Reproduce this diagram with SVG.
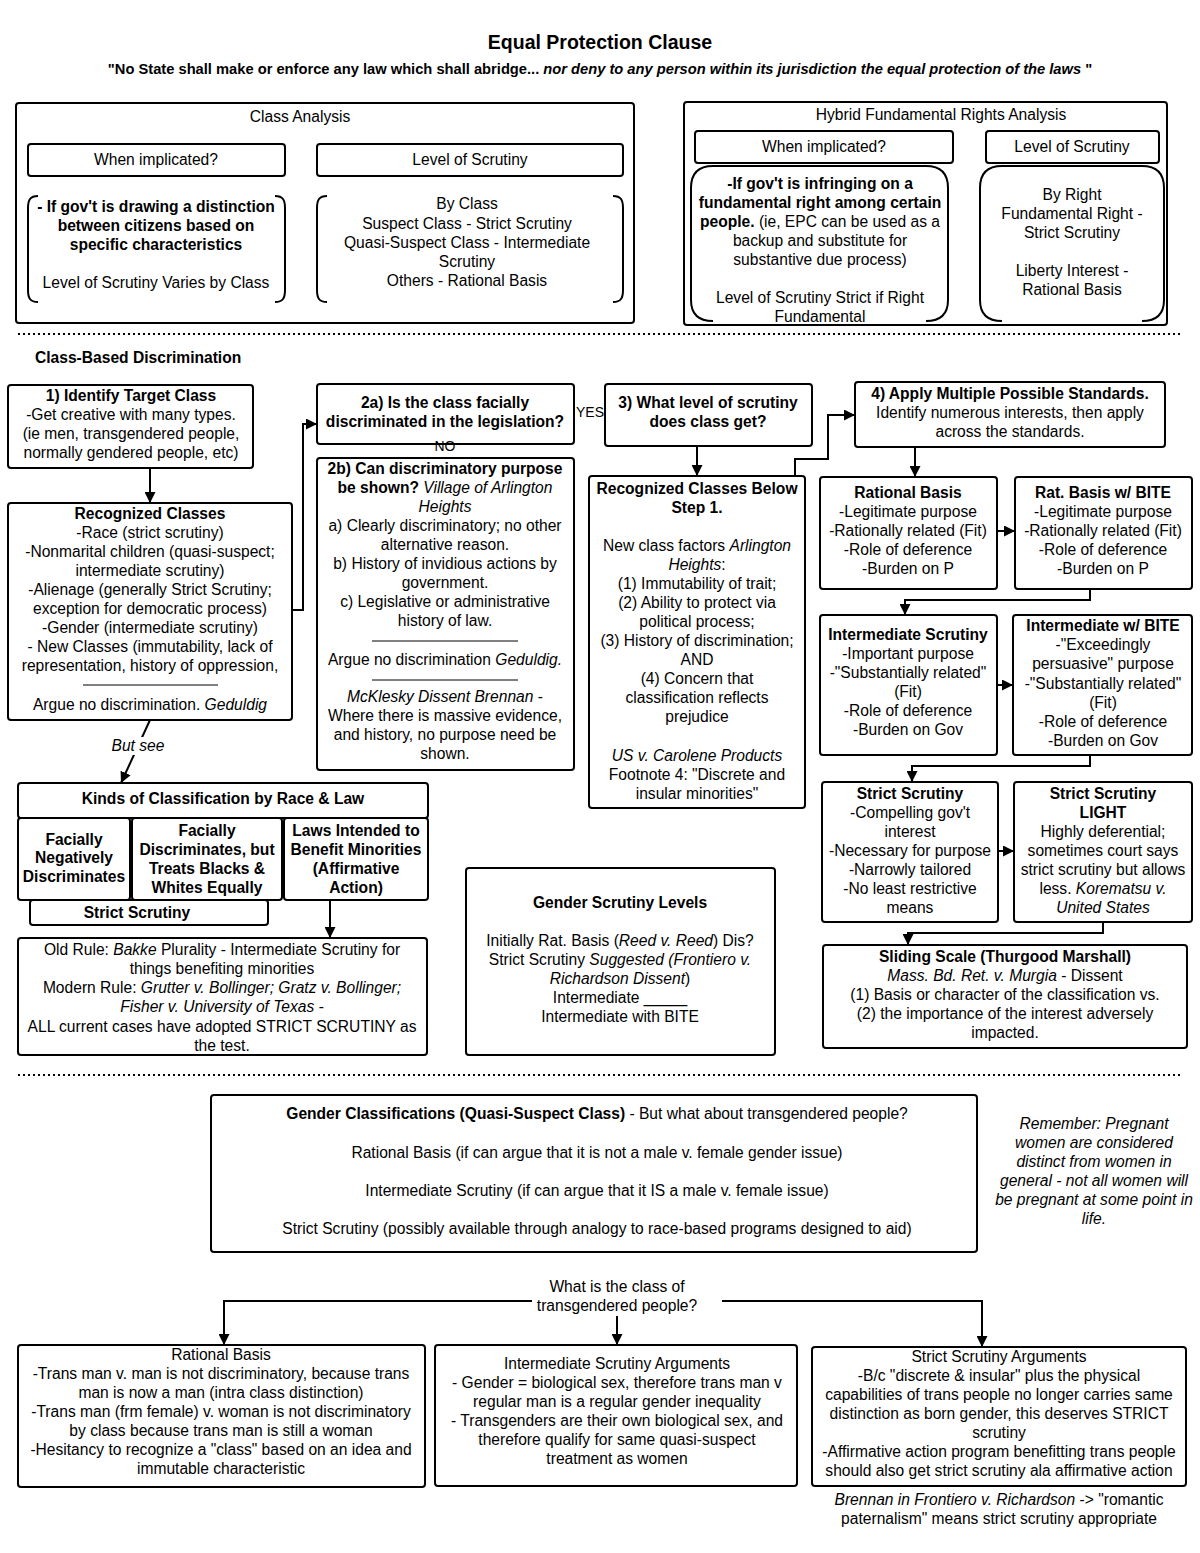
<svg xmlns="http://www.w3.org/2000/svg" width="1200" height="1553" viewBox="0 0 1200 1553">
<style>
.t{font-family:"Liberation Sans",Arial,sans-serif;font-size:15.6px;text-anchor:middle;fill:#000}
.l{text-anchor:start}
.b{font-weight:bold}
.i{font-style:italic}
.box{fill:#fff;stroke:#000;stroke-width:2}
.ln{fill:none;stroke:#000;stroke-width:2}
.sep{fill:none;stroke:#000;stroke-width:2;stroke-dasharray:2 3}
.arr{fill:none;stroke:#000;stroke-width:2;marker-end:url(#a)}
</style>
<defs>
<marker id="a" viewBox="0 0 10 10" refX="10" refY="5" markerWidth="5.5" markerHeight="5.5" orient="auto"><path d="M0,0 L10,5 L0,10 z" fill="#000"/></marker>
</defs>
<rect width="1200" height="1553" fill="#fff"/>

<g id="title">
<text class="t b" x="600" y="49" style="font-size:19.5px">Equal Protection Clause</text>
<text class="t b" x="600" y="74" style="font-size:14.7px">"No State shall make or enforce any law which shall abridge... <tspan class="i">nor deny to any person within its jurisdiction the equal protection of the laws</tspan> "</text>
</g>

<g id="class-analysis">
<rect class="box" x="16" y="103" width="618" height="220" rx="3"/>
<text class="t" x="300" y="122">Class Analysis</text>
<rect class="box" x="28" y="144" width="257" height="32" rx="3"/>
<text class="t" x="156" y="165">When implicated?</text>
<rect class="box" x="317" y="144" width="306" height="32" rx="3"/>
<text class="t" x="470" y="165">Level of Scrutiny</text>
<path class="ln" d="M38,196 C30,196 28,200 28,208 V290 C28,298 30,302 38,302 M275,196 C283,196 285,200 285,208 V290 C285,298 283,302 275,302"/>
<text class="t b" x="156" y="212">- If gov't is drawing a distinction</text>
<text class="t b" x="156" y="231">between citizens based on</text>
<text class="t b" x="156" y="250">specific characteristics</text>
<text class="t" x="156" y="288">Level of Scrutiny Varies by Class</text>
<path class="ln" d="M327,196 C319,196 317,200 317,208 V290 C317,298 319,302 327,302 M613,196 C621,196 623,200 623,208 V290 C623,298 621,302 613,302"/>
<text class="t" x="467" y="209">By Class</text>
<text class="t" x="467" y="229">Suspect Class - Strict Scrutiny</text>
<text class="t" x="467" y="248">Quasi-Suspect Class - Intermediate</text>
<text class="t" x="467" y="267">Scrutiny</text>
<text class="t" x="467" y="286">Others - Rational Basis</text>
</g>

<g id="hybrid">
<rect class="box" x="684" y="102" width="483" height="223" rx="3"/>
<text class="t" x="941" y="120">Hybrid Fundamental Rights Analysis</text>
<rect class="box" x="695" y="131" width="258" height="32" rx="3"/>
<text class="t" x="824" y="152">When implicated?</text>
<rect class="box" x="986" y="131" width="173" height="32" rx="3"/>
<text class="t" x="1072" y="152">Level of Scrutiny</text>
<path class="ln" d="M713,321 Q691,321 691,300 V188 Q691,166 713,166 H926 Q948,166 948,188 V300 Q948,321 926,321"/>
<text class="t b" x="820" y="189">-If gov't is infringing on a</text>
<text class="t b" x="820" y="208">fundamental right among certain</text>
<text class="t" x="820" y="227"><tspan class="b">people.</tspan> (ie, EPC can be used as a</text>
<text class="t" x="820" y="246">backup and substitute for</text>
<text class="t" x="820" y="265">substantive due process)</text>
<text class="t" x="820" y="303">Level of Scrutiny Strict if Right</text>
<text class="t" x="820" y="322">Fundamental</text>
<path class="ln" d="M1002,321 Q980,321 980,300 V188 Q980,166 1002,166 H1142 Q1164,166 1164,188 V300 Q1164,321 1142,321"/>
<text class="t" x="1072" y="200">By Right</text>
<text class="t" x="1072" y="219">Fundamental Right -</text>
<text class="t" x="1072" y="238">Strict Scrutiny</text>
<text class="t" x="1072" y="276">Liberty Interest -</text>
<text class="t" x="1072" y="295">Rational Basis</text>
</g>

<g id="separators">
<path class="sep" d="M18,334 H1182"/>
<path class="sep" d="M18,1075 H1182"/>
</g>

<text class="t b l" x="35" y="363">Class-Based Discrimination</text>

<g id="connectors">
<path class="arr" d="M150,468 V503"/>
<path class="arr" d="M292,610 H303 V424 H317"/>
<path class="arr" d="M697,446 V476"/>
<path class="arr" d="M795,476 V459 H828 V415 H855"/>
<path class="arr" d="M915,447 V477"/>
<path class="arr" d="M997,531 H1015"/>
<path class="arr" d="M1090,589 V600 H905 V615"/>
<path class="arr" d="M997,685 H1013"/>
<path class="arr" d="M1090,755 V766 H912 V782"/>
<path class="arr" d="M998,851 H1014"/>
<path class="arr" d="M1103,922 V933 H908 V945"/>
<path class="arr" d="M150,720 L121,783"/>
<path class="arr" d="M330,900 V938"/>
<path class="arr" d="M532,1301 H224 V1345"/>
<path class="arr" d="M722,1301 H982 V1347"/>
<path class="arr" d="M617,1316 V1345"/>
<rect x="108" y="737" width="60" height="18" fill="#fff"/>
<text class="t i" x="138" y="751">But see</text>
</g>

<g id="step1">
<rect class="box" x="8" y="385" width="245" height="83" rx="3"/>
<text class="t b" x="131" y="401">1) Identify Target Class</text>
<text class="t" x="131" y="420">-Get creative with many types.</text>
<text class="t" x="131" y="439">(ie men, transgendered people,</text>
<text class="t" x="131" y="458">normally gendered people, etc)</text>
</g>

<g id="recognized-classes">
<rect class="box" x="8" y="503" width="284" height="217" rx="3"/>
<text class="t b" x="150" y="519">Recognized Classes</text>
<text class="t" x="150" y="538">-Race (strict scrutiny)</text>
<text class="t" x="150" y="557">-Nonmarital children (quasi-suspect;</text>
<text class="t" x="150" y="576">intermediate scrutiny)</text>
<text class="t" x="150" y="595">-Alienage (generally Strict Scrutiny;</text>
<text class="t" x="150" y="614">exception for democratic process)</text>
<text class="t" x="150" y="633">-Gender (intermediate scrutiny)</text>
<text class="t" x="150" y="652">- New Classes (immutability, lack of</text>
<text class="t" x="150" y="671">representation, history of oppression,</text>
<path d="M83,685 H218" stroke="#000" stroke-width="1"/>
<text class="t" x="150" y="710">Argue no discrimination. <tspan class="i">Geduldig</tspan></text>
</g>

<g id="step2a">
<rect class="box" x="317" y="384" width="257" height="60" rx="3"/>
<text class="t b" x="445" y="408">2a) Is the class facially</text>
<text class="t b" x="445" y="427">discriminated in the legislation?</text>
<text class="t" x="590" y="417" style="font-size:14px">YES</text>
<text class="t" x="445" y="451" style="font-size:14px">NO</text>
</g>

<g id="step2b">
<rect class="box" x="317" y="458" width="257" height="312" rx="3"/>
<text class="t b" x="445" y="474">2b) Can discriminatory purpose</text>
<text class="t" x="445" y="493"><tspan class="b">be shown?</tspan> <tspan class="i">Village of Arlington</tspan></text>
<text class="t i" x="445" y="512">Heights</text>
<text class="t" x="445" y="531">a) Clearly discriminatory; no other</text>
<text class="t" x="445" y="550">alternative reason.</text>
<text class="t" x="445" y="569">b) History of invidious actions by</text>
<text class="t" x="445" y="588">government.</text>
<text class="t" x="445" y="607">c) Legislative or administrative</text>
<text class="t" x="445" y="626">history of law.</text>
<path d="M372,641 H518" stroke="#000" stroke-width="1"/>
<text class="t" x="445" y="665">Argue no discrimination <tspan class="i">Geduldig.</tspan></text>
<path d="M372,680 H518" stroke="#000" stroke-width="1"/>
<text class="t" x="445" y="702"><tspan class="i">McKlesky Dissent Brennan</tspan> -</text>
<text class="t" x="445" y="721">Where there is massive evidence,</text>
<text class="t" x="445" y="740">and history, no purpose need be</text>
<text class="t" x="445" y="759">shown.</text>
</g>

<g id="step3">
<rect class="box" x="605" y="384" width="207" height="62" rx="3"/>
<text class="t b" x="708" y="408">3) What level of scrutiny</text>
<text class="t b" x="708" y="427">does class get?</text>
</g>

<g id="recognized-below">
<rect class="box" x="589" y="476" width="216" height="332" rx="3"/>
<text class="t b" x="697" y="494">Recognized Classes Below</text>
<text class="t b" x="697" y="513">Step 1.</text>
<text class="t" x="697" y="551">New class factors <tspan class="i">Arlington</tspan></text>
<text class="t" x="697" y="570"><tspan class="i">Heights</tspan>:</text>
<text class="t" x="697" y="589">(1) Immutability of trait;</text>
<text class="t" x="697" y="608">(2) Ability to protect via</text>
<text class="t" x="697" y="627">political process;</text>
<text class="t" x="697" y="646">(3) History of discrimination;</text>
<text class="t" x="697" y="665">AND</text>
<text class="t" x="697" y="684">(4) Concern that</text>
<text class="t" x="697" y="703">classification reflects</text>
<text class="t" x="697" y="722">prejudice</text>
<text class="t i" x="697" y="761">US v. Carolene Products</text>
<text class="t" x="697" y="780">Footnote 4: "Discrete and</text>
<text class="t" x="697" y="799">insular minorities"</text>
</g>

<g id="step4">
<rect class="box" x="855" y="382" width="310" height="65" rx="3"/>
<text class="t b" x="1010" y="399">4) Apply Multiple Possible Standards.</text>
<text class="t" x="1010" y="418">Identify numerous interests, then apply</text>
<text class="t" x="1010" y="437">across the standards.</text>
</g>

<g id="rational-basis">
<rect class="box" x="820" y="477" width="177" height="112" rx="3"/>
<text class="t b" x="908" y="498">Rational Basis</text>
<text class="t" x="908" y="517">-Legitimate purpose</text>
<text class="t" x="908" y="536">-Rationally related (Fit)</text>
<text class="t" x="908" y="555">-Role of deference</text>
<text class="t" x="908" y="574">-Burden on P</text>
</g>

<g id="rational-bite">
<rect class="box" x="1015" y="477" width="177" height="112" rx="3"/>
<text class="t b" x="1103" y="498">Rat. Basis w/ BITE</text>
<text class="t" x="1103" y="517">-Legitimate purpose</text>
<text class="t" x="1103" y="536">-Rationally related (Fit)</text>
<text class="t" x="1103" y="555">-Role of deference</text>
<text class="t" x="1103" y="574">-Burden on P</text>
</g>

<g id="intermediate">
<rect class="box" x="820" y="615" width="177" height="140" rx="3"/>
<text class="t b" x="908" y="640">Intermediate Scrutiny</text>
<text class="t" x="908" y="659">-Important purpose</text>
<text class="t" x="908" y="678">-"Substantially related"</text>
<text class="t" x="908" y="697">(Fit)</text>
<text class="t" x="908" y="716">-Role of deference</text>
<text class="t" x="908" y="735">-Burden on Gov</text>
</g>

<g id="intermediate-bite">
<rect class="box" x="1013" y="615" width="179" height="140" rx="3"/>
<text class="t b" x="1103" y="631">Intermediate w/ BITE</text>
<text class="t" x="1103" y="650">-"Exceedingly</text>
<text class="t" x="1103" y="669">persuasive" purpose</text>
<text class="t" x="1103" y="689">-"Substantially related"</text>
<text class="t" x="1103" y="708">(Fit)</text>
<text class="t" x="1103" y="727">-Role of deference</text>
<text class="t" x="1103" y="746">-Burden on Gov</text>
</g>

<g id="strict">
<rect class="box" x="822" y="782" width="176" height="140" rx="3"/>
<text class="t b" x="910" y="799">Strict Scrutiny</text>
<text class="t" x="910" y="818">-Compelling gov't</text>
<text class="t" x="910" y="837">interest</text>
<text class="t" x="910" y="856">-Necessary for purpose</text>
<text class="t" x="910" y="875">-Narrowly tailored</text>
<text class="t" x="910" y="894">-No least restrictive</text>
<text class="t" x="910" y="913">means</text>
</g>

<g id="strict-light">
<rect class="box" x="1014" y="782" width="178" height="140" rx="3"/>
<text class="t b" x="1103" y="799">Strict Scrutiny</text>
<text class="t b" x="1103" y="818">LIGHT</text>
<text class="t" x="1103" y="837">Highly deferential;</text>
<text class="t" x="1103" y="856">sometimes court says</text>
<text class="t" x="1103" y="875">strict scrutiny but allows</text>
<text class="t" x="1103" y="894">less. <tspan class="i">Korematsu v.</tspan></text>
<text class="t i" x="1103" y="913">United States</text>
</g>

<g id="sliding-scale">
<rect class="box" x="823" y="945" width="364" height="103" rx="3"/>
<text class="t b" x="1005" y="962">Sliding Scale (Thurgood Marshall)</text>
<text class="t" x="1005" y="981"><tspan class="i">Mass. Bd. Ret. v. Murgia</tspan> -  Dissent</text>
<text class="t" x="1005" y="1000">(1) Basis or character of the classification vs.</text>
<text class="t" x="1005" y="1019">(2) the importance of the interest adversely</text>
<text class="t" x="1005" y="1038">impacted.</text>
</g>

<g id="kinds">
<rect class="box" x="18" y="783" width="410" height="35" rx="3"/>
<text class="t b" x="223" y="804">Kinds of Classification by Race &amp; Law</text>
</g>
<g id="facially-negative">
<rect class="box" x="18" y="818" width="112" height="82" rx="3"/>
<text class="t b" x="74" y="845">Facially</text>
<text class="t b" x="74" y="863">Negatively</text>
<text class="t b" x="74" y="882">Discriminates</text>
</g>
<g id="facially-equal">
<rect class="box" x="132" y="818" width="150" height="82" rx="3"/>
<text class="t b" x="207" y="836">Facially</text>
<text class="t b" x="207" y="855">Discriminates, but</text>
<text class="t b" x="207" y="874">Treats Blacks &amp;</text>
<text class="t b" x="207" y="893">Whites Equally</text>
</g>
<g id="benefit-minorities">
<rect class="box" x="284" y="818" width="144" height="82" rx="3"/>
<text class="t b" x="356" y="836">Laws Intended to</text>
<text class="t b" x="356" y="855">Benefit Minorities</text>
<text class="t b" x="356" y="874">(Affirmative</text>
<text class="t b" x="356" y="893">Action)</text>
</g>
<g id="strict-label">
<rect class="box" x="30" y="900" width="238" height="25" rx="3"/>
<text class="t b" x="137" y="918">Strict Scrutiny</text>
</g>
<g id="old-rule">
<rect class="box" x="18" y="938" width="409" height="117" rx="3"/>
<text class="t" x="222" y="955">Old Rule: <tspan class="i">Bakke</tspan> Plurality - Intermediate Scrutiny for</text>
<text class="t" x="222" y="974">things benefiting minorities</text>
<text class="t" x="222" y="993">Modern Rule: <tspan class="i">Grutter v. Bollinger; Gratz v. Bollinger;</tspan></text>
<text class="t" x="222" y="1012"><tspan class="i">Fisher v. University of Texas</tspan> -</text>
<text class="t" x="222" y="1032">ALL current cases have adopted STRICT SCRUTINY as</text>
<text class="t" x="222" y="1051">the test.</text>
</g>

<g id="gender-levels">
<rect class="box" x="466" y="868" width="309" height="187" rx="3"/>
<text class="t b" x="620" y="908">Gender Scrutiny Levels</text>
<text class="t" x="620" y="946">Initially Rat. Basis (<tspan class="i">Reed v. Reed</tspan>) Dis?</text>
<text class="t" x="620" y="965">Strict Scrutiny <tspan class="i">Suggested (Frontiero v.</tspan></text>
<text class="t" x="620" y="984"><tspan class="i">Richardson Dissent</tspan>)</text>
<text class="t" x="620" y="1003">Intermediate _____</text>
<text class="t" x="620" y="1022">Intermediate with BITE</text>
</g>

<g id="gender-classifications">
<rect class="box" x="211" y="1095" width="766" height="157" rx="3"/>
<text class="t" x="597" y="1119"><tspan class="b">Gender Classifications (Quasi-Suspect Class)</tspan> - But what about transgendered people?</text>
<text class="t" x="597" y="1158">Rational Basis (if can argue that it is not a male v. female gender issue)</text>
<text class="t" x="597" y="1196">Intermediate Scrutiny (if can argue that it IS a male v. female issue)</text>
<text class="t" x="597" y="1234">Strict Scrutiny (possibly available through analogy to race-based programs designed to aid)</text>
</g>

<g id="pregnant-note">
<text class="t i" x="1094" y="1129">Remember: Pregnant</text>
<text class="t i" x="1094" y="1148">women are considered</text>
<text class="t i" x="1094" y="1167">distinct from women in</text>
<text class="t i" x="1094" y="1186">general - not all women will</text>
<text class="t i" x="1094" y="1205">be pregnant at some point in</text>
<text class="t i" x="1094" y="1224">life.</text>
</g>

<g id="trans-question">
<text class="t" x="617" y="1292">What is the class of</text>
<text class="t" x="617" y="1311">transgendered people?</text>
</g>

<g id="trans-rational">
<rect class="box" x="18" y="1345" width="407" height="142" rx="3"/>
<text class="t" x="221" y="1360">Rational Basis</text>
<text class="t" x="221" y="1379">-Trans man v. man is not discriminatory, because trans</text>
<text class="t" x="221" y="1398">man is now a man (intra class distinction)</text>
<text class="t" x="221" y="1417">-Trans man (frm female) v. woman is not discriminatory</text>
<text class="t" x="221" y="1436">by class because trans man is still a woman</text>
<text class="t" x="221" y="1455">-Hesitancy to recognize a "class" based on an idea and</text>
<text class="t" x="221" y="1474">immutable characteristic</text>
</g>

<g id="trans-intermediate">
<rect class="box" x="435" y="1345" width="362" height="141" rx="3"/>
<text class="t" x="617" y="1369">Intermediate Scrutiny Arguments</text>
<text class="t" x="617" y="1388">- Gender = biological sex, therefore trans man v</text>
<text class="t" x="617" y="1407">regular man is a regular gender inequality</text>
<text class="t" x="617" y="1426">- Transgenders are their own biological sex, and</text>
<text class="t" x="617" y="1445">therefore qualify for same quasi-suspect</text>
<text class="t" x="617" y="1464">treatment as women</text>
</g>

<g id="trans-strict">
<rect class="box" x="812" y="1347" width="374" height="139" rx="3"/>
<text class="t" x="999" y="1362">Strict Scrutiny Arguments</text>
<text class="t" x="999" y="1381">-B/c "discrete &amp; insular" plus the physical</text>
<text class="t" x="999" y="1400">capabilities of trans people no longer carries same</text>
<text class="t" x="999" y="1419">distinction as born gender, this deserves STRICT</text>
<text class="t" x="999" y="1438">scrutiny</text>
<text class="t" x="999" y="1457">-Affirmative action program benefitting trans people</text>
<text class="t" x="999" y="1476">should also get strict scrutiny ala affirmative action</text>
</g>

<g id="brennan-note">
<text class="t" x="999" y="1505"><tspan class="i">Brennan in Frontiero v. Richardson</tspan> -&gt; "romantic</text>
<text class="t" x="999" y="1524">paternalism" means strict scrutiny appropriate</text>
</g>
</svg>
